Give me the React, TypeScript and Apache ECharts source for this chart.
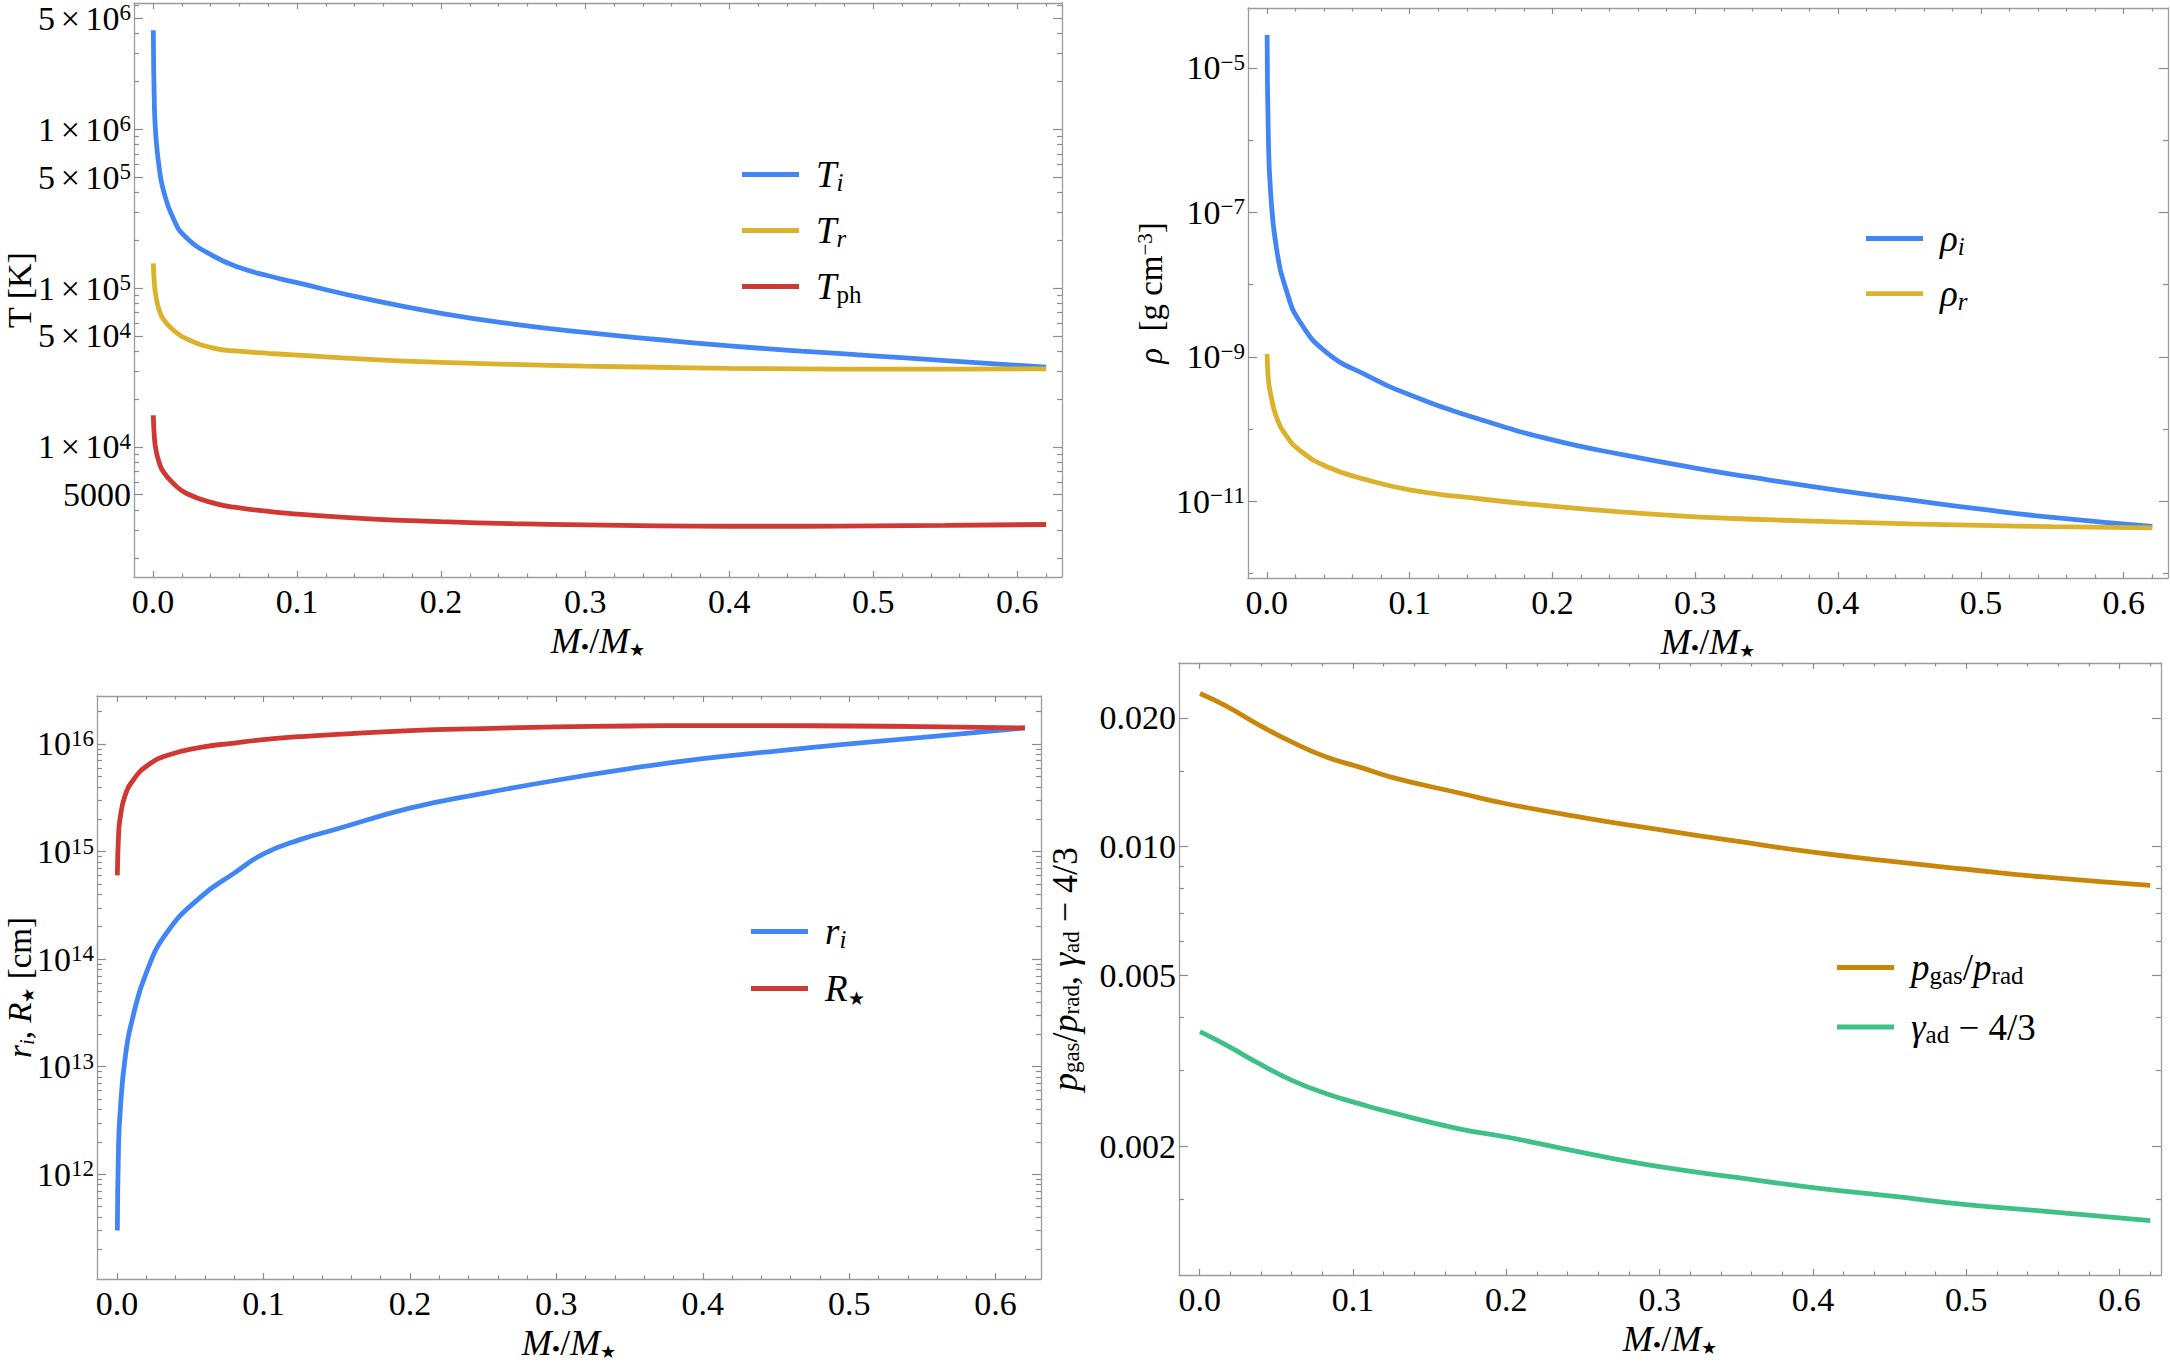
import React, { useEffect, useRef } from "react";
import * as echarts from "echarts";

const SERIF = "Liberation Serif";

// ---------------- data ----------------
// Top-left: temperatures [K]
const tempX = [0.0002, 0.001, 0.002, 0.004, 0.007, 0.014, 0.023, 0.042, 0.06, 0.08, 0.1, 0.15, 0.2, 0.25, 0.3, 0.35, 0.4, 0.45, 0.5, 0.55, 0.62];
const tempInner = [4.2e6, 1.35e6, 9.0e5, 6.0e5, 4.2e5, 2.75e5, 2.08e5, 1.59e5, 1.346e5, 1.194e5, 1.08e5, 8.47e4, 6.93e4, 5.93e4, 5.25e4, 4.74e4, 4.32e4, 4.01e4, 3.74e4, 3.49e4, 3.17e4];
const tempRad = [1.43e5, 1.05e5, 8.9e4, 7.4e4, 6.4e4, 5.45e4, 4.8e4, 4.18e4, 4.0e4, 3.88e4, 3.78e4, 3.55e4, 3.4e4, 3.3e4, 3.22e4, 3.17e4, 3.12e4, 3.1e4, 3.08e4, 3.08e4, 3.1e4];
const tempPhot = [1.58e4, 1.13e4, 9.6e3, 8.1e3, 7.0e3, 5.9e3, 5.1e3, 4.42e3, 4.12e3, 3.92e3, 3.77e3, 3.52e3, 3.38e3, 3.28e3, 3.22e3, 3.18e3, 3.16e3, 3.16e3, 3.18e3, 3.2e3, 3.24e3];

// Top-right: densities [g cm^-3]
const rhoX = [0.0002, 0.001, 0.0026, 0.0068, 0.0138, 0.023, 0.0417, 0.0696, 0.1, 0.15, 0.2, 0.25, 0.3, 0.35, 0.4, 0.45, 0.5, 0.55, 0.62];
const rhoInner = [2.86e-5, 1.26e-6, 1.96e-7, 3.14e-8, 8.2e-9, 3.1e-9, 1.16e-9, 5.6e-10, 3.0e-10, 1.35e-10, 7.1e-11, 4.4e-11, 2.9e-11, 2.0e-11, 1.42e-11, 1.05e-11, 7.8e-12, 6.0e-12, 4.5e-12];
const rhoRad = [1.1e-9, 5.0e-10, 3.1e-10, 1.46e-10, 8.0e-11, 5.1e-11, 3.05e-11, 2.0e-11, 1.45e-11, 1.08e-11, 8.6e-12, 7.1e-12, 6.1e-12, 5.6e-12, 5.2e-12, 4.9e-12, 4.66e-12, 4.47e-12, 4.3e-12];

// Bottom-left: radii [cm]
const radX = [0.0002, 0.001, 0.002, 0.0054, 0.011, 0.02, 0.034, 0.057, 0.08, 0.1, 0.125, 0.15, 0.2, 0.25, 0.3, 0.35, 0.4, 0.45, 0.5, 0.55, 0.62];
const radInner = [3.0e11, 1.8e12, 3.6e12, 1.17e13, 2.97e13, 7.5e13, 1.76e14, 3.77e14, 6.3e14, 9.5e14, 1.29e15, 1.62e15, 2.53e15, 3.47e15, 4.6e15, 5.9e15, 7.3e15, 8.6e15, 1.0e16, 1.15e16, 1.41e16];
const radStar = [6.0e14, 1.4e15, 2.0e15, 3.3e15, 4.6e15, 6.2e15, 7.8e15, 9.3e15, 1.02e16, 1.1e16, 1.17e16, 1.23e16, 1.33e16, 1.39e16, 1.44e16, 1.47e16, 1.48e16, 1.48e16, 1.47e16, 1.45e16, 1.41e16];

// Bottom-right: pressure ratio and adiabatic index excess
const presX = [0.0002, 0.0174, 0.0391, 0.0609, 0.0826, 0.1044, 0.126, 0.17, 0.2, 0.25, 0.3, 0.35, 0.4, 0.45, 0.5, 0.55, 0.62];
const presRatio = [0.0228, 0.0213, 0.0192, 0.0175, 0.0162, 0.01534, 0.0145, 0.01333, 0.0126, 0.0117, 0.01096, 0.0103, 0.00971, 0.00925, 0.00886, 0.0085, 0.00812];
const gammaExcess = [0.0037, 0.00344, 0.00311, 0.00284, 0.00265, 0.00251, 0.00239, 0.00219, 0.0021, 0.00193, 0.00179, 0.00169, 0.0016, 0.00153, 0.00146, 0.00141, 0.00134];

// ---------------- ticks ----------------
const xMajorTicks = [0, 0.1, 0.2, 0.3, 0.4, 0.5, 0.6];
const xMinorTicks = [0.02, 0.04, 0.06, 0.08, 0.12, 0.14, 0.16, 0.18, 0.22, 0.24, 0.26, 0.28, 0.32, 0.34, 0.36, 0.38, 0.42, 0.44, 0.46, 0.48, 0.52, 0.54, 0.56, 0.58, 0.62];

const tempTickVals = [5000, 1e4, 5e4, 1e5, 5e5, 1e6, 5e6];
const tempTickText = ["{b|5000}", "{b|1\u2006×\u200610}{s|4}", "{b|5\u2006×\u200610}{s|4}", "{b|1\u2006×\u200610}{s|5}", "{b|5\u2006×\u200610}{s|5}", "{b|1\u2006×\u200610}{s|6}", "{b|5\u2006×\u200610}{s|6}"];
const tempMinorVals = [2000, 3000, 4000, 6000, 7000, 8000, 9000, 2e4, 3e4, 4e4, 6e4, 7e4, 8e4, 9e4, 2e5, 3e5, 4e5, 6e5, 7e5, 8e5, 9e5, 2e6, 3e6, 4e6, 6e6];

const rhoTickVals = [1e-11, 1e-9, 1e-7, 1e-5];
const rhoTickText = ["{b|10}{s|−11}", "{b|10}{s|−9}", "{b|10}{s|−7}", "{b|10}{s|−5}"];
const rhoMinorVals = [1e-12, 1e-10, 1e-8, 1e-6];

const radTickVals = [1e12, 1e13, 1e14, 1e15, 1e16];
const radTickText = ["{b|10}{s|12}", "{b|10}{s|13}", "{b|10}{s|14}", "{b|10}{s|15}", "{b|10}{s|16}"];
const radMinorVals = [
  2e11, 3e11, 4e11, 5e11, 6e11, 7e11, 8e11, 9e11,
  2e12, 3e12, 4e12, 5e12, 6e12, 7e12, 8e12, 9e12,
  2e13, 3e13, 4e13, 5e13, 6e13, 7e13, 8e13, 9e13,
  2e14, 3e14, 4e14, 5e14, 6e14, 7e14, 8e14, 9e14,
  2e15, 3e15, 4e15, 5e15, 6e15, 7e15, 8e15, 9e15,
  2e16,
];

const presTickVals = [0.002, 0.005, 0.01, 0.02];
const presTickText = ["{b|0.002}", "{b|0.005}", "{b|0.010}", "{b|0.020}"];
const presMinorVals = [0.0015, 0.003, 0.004, 0.006, 0.007, 0.008, 0.009, 0.015];

// ---------------- styles ----------------
const BLUE = "#4285f4";
const YELLOW = "#dcb12c";
const RED = "#d03834";
const BROWN = "#c8870a";
const GREEN = "#3fc088";
const FRAME = "#9c9c9c";
const TICK = "#8c8c8c";

function makeNameRich(fs: number) {
  const lh = fs + 1;
  const sfs = Math.round(fs * 0.64);
  return {
    i: { fontFamily: SERIF, fontStyle: "italic", fontSize: fs, lineHeight: lh, color: "#000" },
    n: { fontFamily: SERIF, fontSize: fs, lineHeight: lh, color: "#000" },
    sub: { fontFamily: SERIF, fontSize: sfs, lineHeight: sfs, verticalAlign: "bottom", color: "#000" },
    subi: { fontFamily: SERIF, fontStyle: "italic", fontSize: sfs, lineHeight: sfs, verticalAlign: "bottom", color: "#000" },
    sups: { fontFamily: SERIF, fontSize: sfs, lineHeight: sfs, verticalAlign: "top", color: "#000" },
    subs: { fontFamily: SERIF, fontSize: Math.round(fs * 0.5), lineHeight: Math.round(fs * 0.5), verticalAlign: "bottom", color: "#000" },
    subb: { fontFamily: SERIF, fontSize: Math.round(fs * 0.68), lineHeight: Math.round(fs * 0.6), verticalAlign: "bottom", color: "#000" },
  };
}

const legendRich = {
  i: { fontFamily: SERIF, fontStyle: "italic", fontSize: 37, lineHeight: 40, verticalAlign: "middle", color: "#000" },
  n: { fontFamily: SERIF, fontSize: 37, lineHeight: 40, verticalAlign: "middle", color: "#000" },
  sub: { fontFamily: SERIF, fontSize: 25, lineHeight: 25, verticalAlign: "bottom", color: "#000" },
  subi: { fontFamily: SERIF, fontStyle: "italic", fontSize: 25, lineHeight: 25, verticalAlign: "bottom", color: "#000" },
  subs: { fontFamily: SERIF, fontSize: 19, lineHeight: 22, verticalAlign: "bottom", color: "#000" },
};

const legendText: Record<string, string> = {
  Ti: "{i|T}{subi|i}",
  Tr: "{i|T}{subi|r}",
  Tph: "{i|T}{sub|ph}",
  rhoi: "{i|ρ}{subi|i}",
  rhor: "{i|ρ}{subi|r}",
  ri: "{i|r}{subi|i}",
  Rstar: "{i|R}{subs|★}",
  pgas: "{i|p}{sub|gas}{n|/}{i|p}{sub|rad}",
  gamma: "{i|γ}{sub|ad}{n| − 4/3}",
};

const X_NAME = "{i|M}{subb|•}{n|/}{i|M}{subs|★}";

function tickRich(baseLH: number, supLH: number) {
  return {
    b: { fontFamily: SERIF, fontSize: 34, lineHeight: baseLH, verticalAlign: "bottom", color: "#000" },
    s: { fontFamily: SERIF, fontSize: 23, lineHeight: supLH, verticalAlign: "top", color: "#000" },
  };
}

type SeriesDef = { name: string; xs: number[]; ys: number[]; color: string };
type Panel = {
  grid: { left: number; top: number; width: number; height: number };
  xRange: [number, number];
  yRange: [number, number];
  tickVals: number[];
  tickText: string[];
  minorVals: number[];
  supLH: number;
  yName: string;
  yNameSize: number;
  yGap: number;
  xGap: number;
  legend: { left: number; top: number; gap: number };
  series: SeriesDef[];
};

const panels: Panel[] = [
  {
    grid: { left: 134, top: 3, width: 928, height: 574 },
    xRange: [-0.0132, 0.631],
    yRange: [3.18, 6.795],
    tickVals: tempTickVals,
    tickText: tempTickText,
    minorVals: tempMinorVals,
    supLH: 16,
    yName: "{n|T [K]}",
    yNameSize: 34,
    yGap: 97,
    xGap: 45,
    legend: { left: 742, top: 156, gap: 17.5 },
    series: [
      { name: "Ti", xs: tempX, ys: tempInner, color: BLUE },
      { name: "Tr", xs: tempX, ys: tempRad, color: YELLOW },
      { name: "Tph", xs: tempX, ys: tempPhot, color: RED },
    ],
  },
  {
    grid: { left: 1248, top: 8, width: 920, height: 570 },
    xRange: [-0.0132, 0.631],
    yRange: [-12.06, -4.17],
    tickVals: rhoTickVals,
    tickText: rhoTickText,
    minorVals: rhoMinorVals,
    supLH: 20,
    yName: "{i|ρ}{n|  [g cm}{sups|−3}{n|]}",
    yNameSize: 33,
    yGap: 80,
    xGap: 45,
    legend: { left: 1866, top: 220, gap: 16.7 },
    series: [
      { name: "rhoi", xs: rhoX, ys: rhoInner, color: BLUE },
      { name: "rhor", xs: rhoX, ys: rhoRad, color: YELLOW },
    ],
  },
  {
    grid: { left: 97, top: 696, width: 944, height: 583 },
    xRange: [-0.0137, 0.631],
    yRange: [11.026, 16.446],
    tickVals: radTickVals,
    tickText: radTickText,
    minorVals: radMinorVals,
    supLH: 20,
    yName: "{i|r}{subi|i}{n|, }{i|R}{subs|★}{n| [cm]}",
    yNameSize: 33,
    yGap: 60,
    xGap: 45,
    legend: { left: 751, top: 913, gap: 18.5 },
    series: [
      { name: "ri", xs: radX, ys: radInner, color: BLUE },
      { name: "Rstar", xs: radX, ys: radStar, color: RED },
    ],
  },
  {
    grid: { left: 1179, top: 663, width: 982, height: 612 },
    xRange: [-0.0135, 0.627],
    yRange: [-3.0, -1.571],
    tickVals: presTickVals,
    tickText: presTickText,
    minorVals: presMinorVals,
    supLH: 20,
    yName: "{i|p}{sub|gas}{n|/}{i|p}{sub|rad}{n|, }{i|γ}{sub|ad}{n| − 4/3}",
    yNameSize: 36,
    yGap: 96,
    xGap: 45,
    legend: { left: 1837, top: 949, gap: 21 },
    series: [
      { name: "pgas", xs: presX, ys: presRatio, color: BROWN },
      { name: "gamma", xs: presX, ys: gammaExcess, color: GREEN },
    ],
  },
];

function buildOption() {
  const grid: any[] = [];
  const xAxis: any[] = [];
  const yAxis: any[] = [];
  const series: any[] = [];
  const legend: any[] = [];

  const lineStyle = { color: FRAME, width: 1.3 };
  const tickStyle = { color: TICK, width: 1.2 };
  const xNameRich = makeNameRich(36);

  panels.forEach((p) => {
    const gMain = grid.length;
    grid.push({ ...p.grid, containLabel: false, outerBoundsMode: "none" });
    const gMinor = grid.length;
    grid.push({ ...p.grid, containLabel: false, outerBoundsMode: "none" });

    const xCommon = {
      type: "value",
      min: p.xRange[0],
      max: p.xRange[1],
      splitLine: { show: false },
      axisPointer: { show: false },
    };
    const logTicks = p.tickVals.map((v) => Math.log10(v));
    const logMinor = p.minorVals.map((v) => Math.log10(v));
    const yCommon = {
      type: "value",
      min: p.yRange[0],
      max: p.yRange[1],
      splitLine: { show: false },
      axisPointer: { show: false },
    };

    const xMainIdx = xAxis.length;
    xAxis.push({
      ...xCommon,
      gridIndex: gMain,
      position: "bottom",
      axisLine: { show: true, onZero: false, lineStyle },
      axisTick: { show: true, inside: true, length: 6, customValues: xMajorTicks, lineStyle: tickStyle },
      axisLabel: {
        show: true,
        customValues: xMajorTicks,
        margin: 7,
        fontFamily: SERIF,
        fontSize: 34,
        color: "#000",
        formatter: (v: number) => Number(v).toFixed(1),
      },
      name: X_NAME,
      nameLocation: "middle",
      nameGap: p.xGap,
      nameMoveOverlap: false,
      nameTextStyle: { fontFamily: SERIF, rich: xNameRich },
    });
    xAxis.push({
      ...xCommon,
      gridIndex: gMain,
      position: "top",
      axisLine: { show: true, onZero: false, lineStyle },
      axisTick: { show: true, inside: true, length: 6, customValues: xMajorTicks, lineStyle: tickStyle },
      axisLabel: { show: false },
    });
    xAxis.push({
      ...xCommon,
      gridIndex: gMinor,
      position: "bottom",
      axisLine: { show: false, onZero: false },
      axisTick: { show: true, inside: true, length: 3.5, customValues: xMinorTicks, lineStyle: tickStyle },
      axisLabel: { show: false },
    });
    xAxis.push({
      ...xCommon,
      gridIndex: gMinor,
      position: "top",
      axisLine: { show: false, onZero: false },
      axisTick: { show: true, inside: true, length: 3.5, customValues: xMinorTicks, lineStyle: tickStyle },
      axisLabel: { show: false },
    });

    const yMainIdx = yAxis.length;
    yAxis.push({
      ...yCommon,
      gridIndex: gMain,
      position: "left",
      axisLine: { show: true, onZero: false, lineStyle },
      axisTick: { show: true, inside: true, length: 9, customValues: logTicks, lineStyle: tickStyle },
      axisLabel: {
        show: true,
        customValues: logTicks,
        margin: 3,
        fontFamily: SERIF,
        rich: tickRich(34, p.supLH),
        formatter: (v: number) => {
          let best = 0;
          let bd = Infinity;
          logTicks.forEach((t, i) => {
            const d = Math.abs(t - v);
            if (d < bd) {
              bd = d;
              best = i;
            }
          });
          return p.tickText[best];
        },
      },
      name: p.yName,
      nameLocation: "middle",
      nameRotate: 90,
      nameGap: p.yGap,
      nameMoveOverlap: false,
      nameTextStyle: { fontFamily: SERIF, rich: makeNameRich(p.yNameSize) },
    });
    yAxis.push({
      ...yCommon,
      gridIndex: gMain,
      position: "right",
      axisLine: { show: true, onZero: false, lineStyle },
      axisTick: { show: true, inside: true, length: 9, customValues: logTicks, lineStyle: tickStyle },
      axisLabel: { show: false },
    });
    yAxis.push({
      ...yCommon,
      gridIndex: gMinor,
      position: "left",
      axisLine: { show: false, onZero: false },
      axisTick: { show: true, inside: true, length: 5, customValues: logMinor, lineStyle: tickStyle },
      axisLabel: { show: false },
    });
    yAxis.push({
      ...yCommon,
      gridIndex: gMinor,
      position: "right",
      axisLine: { show: false, onZero: false },
      axisTick: { show: true, inside: true, length: 5, customValues: logMinor, lineStyle: tickStyle },
      axisLabel: { show: false },
    });

    p.series.forEach((s) => {
      series.push({
        type: "line",
        name: s.name,
        xAxisIndex: xMainIdx,
        yAxisIndex: yMainIdx,
        data: s.xs.map((x, i) => [x, Math.log10(s.ys[i])]),
        showSymbol: false,
        symbol: "none",
        smooth: 0.5,
        color: s.color,
        itemStyle: { color: s.color },
        lineStyle: { width: 4.8, color: s.color },
        silent: true,
      });
    });

    legend.push({
      data: p.series.map((s) => s.name),
      orient: "vertical",
      left: p.legend.left,
      top: p.legend.top,
      padding: 0,
      itemGap: p.legend.gap,
      itemWidth: 57,
      itemHeight: 4.8,
      icon: "rect",
      selectedMode: false,
      itemStyle: { borderWidth: 0 },
      formatter: (n: string) => legendText[n],
      textStyle: { fontFamily: SERIF, rich: legendRich, padding: [0, 0, 0, 12] },
    });
  });

  return {
    animation: false,
    backgroundColor: "#ffffff",
    textStyle: { fontFamily: SERIF },
    grid,
    xAxis,
    yAxis,
    series,
    legend,
  };
}

export default function App() {
  const ref = useRef<HTMLDivElement>(null);
  useEffect(() => {
    if (!ref.current) return;
    const chart = echarts.init(ref.current, undefined, { renderer: "svg" });
    chart.setOption(buildOption() as any);
    return () => chart.dispose();
  }, []);
  return (
    <div
      ref={ref}
      style={{ position: "absolute", left: 0, top: 0, width: 2170, height: 1366, background: "#fff" }}
    />
  );
}
